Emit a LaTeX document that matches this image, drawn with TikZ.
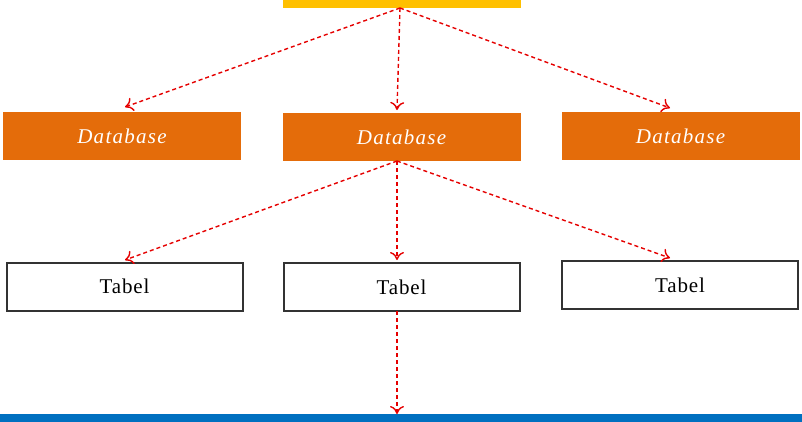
\documentclass[tikz,border=0pt]{standalone}
\usepackage{fontspec}
\setmainfont{Liberation Serif}
\newfontfamily\dbfont[LetterSpace=6]{Liberation Serif}
\newfontfamily\tbfont[LetterSpace=4]{Liberation Serif}
\usetikzlibrary{arrows.meta}
\definecolor{dborange}{RGB}{228,108,10}
\definecolor{topyel}{RGB}{255,192,0}
\definecolor{botblue}{RGB}{0,112,192}
\tikzset{
  dbbox/.style={fill=dborange,draw=none,minimum width=238pt,minimum height=48pt,inner sep=0pt,text=white,font=\dbfont\fontsize{21}{24}\selectfont\itshape},
  tbbox/.style={draw=black!80,line width=2pt,fill=white,minimum width=236pt,minimum height=48pt,inner sep=0pt,font=\tbfont\fontsize{21}{24}\selectfont},
  conn/.style={red!90!black,line width=1.4pt,dash pattern=on 4pt off 3pt,-{To[length=8pt,width=14pt]}}
}
\begin{document}
\begin{tikzpicture}[x=1pt,y=-1pt]
\useasboundingbox (0,0) rectangle (802,421);
\fill[topyel] (283,-2) rectangle (521,8);
\coordinate (top) at (400,8);
\node[dbbox] (d1) at (122,136) {Database};
\node[dbbox] (d2) at (401.5,137) {Database};
\node[dbbox] (d3) at (680.5,136) {Database};
\node[tbbox] (t1) at (124.5,286.5) {Tabel};
\node[tbbox] (t2) at (401.5,287) {Tabel};
\node[tbbox] (t3) at (680,285) {Tabel};
\fill[botblue] (0,414) rectangle (802,423);
\coordinate (bot) at (397,414);
\draw[conn] (top) -- (125,107);
\draw[conn] (top) -- (397,110);
\draw[conn] (top) -- (670,108);
\draw[conn] (397,161) -- (125,260);
\draw[conn] (397,161) -- (397,260);
\draw[conn] (397,161) -- (670,258);
\draw[conn] (397,311) -- (bot);
\end{tikzpicture}
\end{document}
